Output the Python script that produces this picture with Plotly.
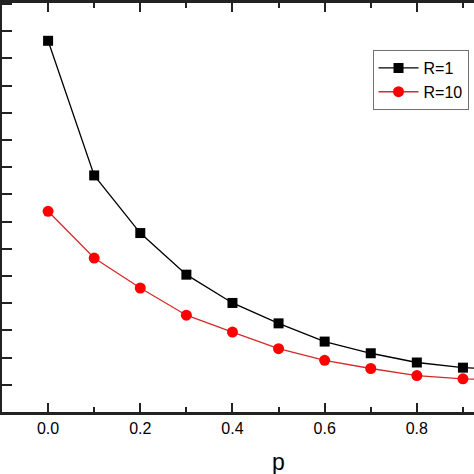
import plotly.graph_objects as go

# values (y axis labels are cropped away, units arbitrary)
p = [0.0, 0.1, 0.2, 0.3, 0.4, 0.5, 0.6, 0.7, 0.8, 0.9, 1.0]
r1 = [13.65, 8.70, 6.58, 5.05, 4.01, 3.26, 2.59, 2.16, 1.82, 1.63, 1.55]
r10 = [7.38, 5.66, 4.56, 3.56, 2.94, 2.33, 1.90, 1.60, 1.34, 1.22, 1.16]
x_ticks = [0.0, 0.2, 0.4, 0.6, 0.8]
x_labels = ['0.0', '0.2', '0.4', '0.6', '0.8']

FONT = 'Liberation Sans, Arial, sans-serif'

fig = go.Figure()
fig.add_trace(go.Scatter(
    x=p, y=r1, name='R=1', mode='lines+markers',
    line=dict(color='black', width=1.3),
    marker=dict(symbol='square', size=10, color='black')
))
fig.add_trace(go.Scatter(
    x=p, y=r10, name='R=10', mode='lines+markers',
    line=dict(color='#d42a2a', width=1.3),
    marker=dict(symbol='circle', size=11, color='#ff0000')
))

fig.update_layout(
    width=474, height=474,
    margin=dict(l=2, r=0, t=1, b=62),
    plot_bgcolor='white', paper_bgcolor='white',
    font=dict(family=FONT, size=16, color='black'),
    legend=dict(
        x=0.785, y=0.885, xanchor='left', yanchor='top',
        bordercolor='#707070', borderwidth=1, bgcolor='white',
        font=dict(family=FONT, size=16, color='black'),
        itemwidth=40, tracegroupgap=0
    ),
    showlegend=True
)
fig.update_xaxes(
    range=[-0.1, 0.924], showgrid=False, zeroline=False,
    showline=True, linecolor='#222', linewidth=2.5, mirror='ticks',
    ticks='inside', ticklen=9, tickwidth=1.5, tickcolor='#222',
    tickvals=x_ticks, ticktext=x_labels,
    minor=dict(dtick=0.1, tick0=0, ticks='inside', ticklen=5, tickwidth=1.5, tickcolor='#222'),
    tickfont=dict(family=FONT, size=16, color='black')
)
fig.update_yaxes(
    range=[0, 15.04], showgrid=False, zeroline=False,
    showline=True, linecolor='#222', linewidth=3, mirror=False,
    ticks='inside', ticklen=10, tickwidth=1.5, tickcolor='#222',
    dtick=1, tick0=0, showticklabels=False
)
fig.add_annotation(
    x=0.5, xref='x', y=-0.1215, yref='paper', text='p', showarrow=False,
    font=dict(family=FONT, size=23, color='black'), yanchor='middle'
)

# the page body has an 8px default margin; drop it so the figure sits at the corner
fig.write_html("out.html", config={'displayModeBar': False},
               post_script="document.body.style.margin='0';document.body.style.overflow='hidden';")
